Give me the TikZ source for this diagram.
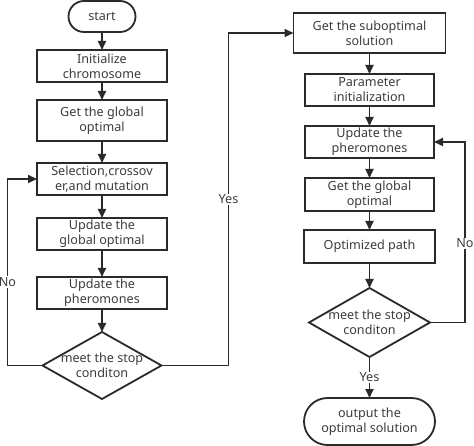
\documentclass[tikz,border=0pt]{standalone}
\usepackage{fontspec}
\setmainfont{Noto Sans}
\usetikzlibrary{arrows.meta,positioning,shapes.misc,shapes.geometric}
\definecolor{linegray}{HTML}{2A2A2A}
\definecolor{textgray}{HTML}{3C3C3C}

\begin{document}
\begin{tikzpicture}[
    x=1pt, y=-1pt,
    >={Triangle[length=9pt,width=8pt]},
    line width=1.8pt,
    font=\fontsize{12.6}{15}\selectfont,
    proc_node/.style={draw=linegray, fill=white, text=textgray, rectangle, minimum width=130pt, minimum height=32pt, align=center, inner sep=0pt, outer sep=0pt},
    term_node/.style={draw=linegray, fill=white, text=textgray, rounded rectangle, minimum height=31pt, align=center, inner sep=0pt, outer sep=0pt},
    cond_node/.style={draw=linegray, fill=white, diamond, inner sep=0pt, outer sep=0pt},
    cond_text/.style={text=textgray, align=center, inner sep=0pt},
    flow_edge/.style={->, draw=linegray},
    answer/.style={fill=white, text=textgray, inner sep=1pt}
]
\useasboundingbox (0,0) rectangle (474,446);

% --- NODES ---

% LEFT COLUMN: genetic algorithm
\node[term_node, minimum width=67pt] (start) at (102,16.5) {start};
\node[proc_node, below=18pt of start] (init) {Initialize\\chromosome};
\node[proc_node, below=18pt of init, minimum height=41pt] (globL) {Get the global\\optimal};
\node[proc_node, below=22pt of globL] (sel) {Selection,crossov\\er,and mutation};
\node[proc_node, below=23pt of sel] (updL) {Update the\\global optimal};
\node[proc_node, below=27pt of updL] (pherL) {Update the\\pheromones};
\node[cond_node, below=23pt of pherL, minimum width=119pt, minimum height=67pt,
      label={[cond_text]center:meet the stop\\conditon}] (stopL) {};

% RIGHT COLUMN: ant colony
\node[proc_node, minimum width=152pt, minimum height=40pt] (sub) at (369.5,33) {Get the suboptimal\\solution};
\node[proc_node, below=21pt of sub, minimum width=129pt] (param) {Parameter\\initialization};
\node[proc_node, below=20pt of param, minimum width=129pt] (pherR) {Update the\\pheromones};
\node[proc_node, below=20pt of pherR, minimum width=129pt, minimum height=33pt] (globR) {Get the global\\optimal};
\node[proc_node, below=19pt of globR, minimum width=131pt, minimum height=33pt] (path) {Optimized path};
\node[cond_node, below=25pt of path, minimum width=121pt, minimum height=69pt,
      label={[cond_text]center:meet the stop\\conditon}] (stopR) {};
\node[term_node, below=41pt of stopR, minimum width=131pt, minimum height=47pt] (output) {output the\\optimal solution};

% --- EDGES ---

% 1. Left flow
\draw[flow_edge] (start) -- (init);
\draw[flow_edge] (init) -- (globL);
\draw[flow_edge] (globL) -- (sel);
\draw[flow_edge] (sel) -- (updL);
\draw[flow_edge] (updL) -- (pherL);
\draw[flow_edge] (pherL) -- (stopL);

% 2. Left loop and exit
\draw[flow_edge] (stopL.west) -- ++(-35,0) |- node[pos=0.224, answer] {No} (sel.west);
\draw[flow_edge] (stopL.east) -- ++(67,0) |- node[pos=0.25, answer] {Yes} (sub.west);

% 3. Right flow
\draw[flow_edge] (sub) -- (param);
\draw[flow_edge] (param) -- (pherR);
\draw[flow_edge] (pherR) -- (globR);
\draw[flow_edge] (globR) -- (path);
\draw[flow_edge] (path) -- (stopR);

% 4. Right loop and exit
\draw[flow_edge] (stopR.east) -- ++(35,0) |- node[pos=0.22, answer] {No} (pherR.east);
\draw[flow_edge] (stopR) -- node[midway, answer] {Yes} (output);

\end{tikzpicture}
\end{document}
